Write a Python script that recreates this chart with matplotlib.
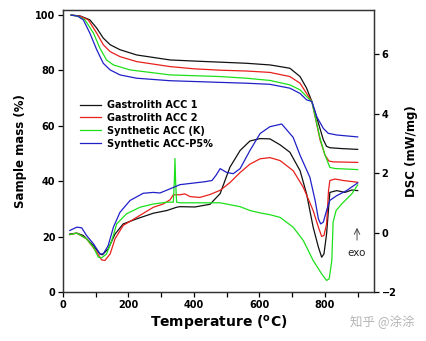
import numpy as np
import matplotlib
matplotlib.use("Agg")
import matplotlib.pyplot as plt

plt.rcParams['font.family'] = ['DejaVu Sans']
plt.rcParams['font.weight'] = 'bold'
plt.rcParams['axes.labelweight'] = 'bold'

# TGA curves (left axis, %)
t_black_tga = [25, 52, 82, 103, 123, 144, 174, 225, 327, 400, 480, 560, 632, 663, 693, 724, 744, 760, 780, 795, 805, 815, 850, 900]
m_black = [100, 99.7, 98.3, 95.3, 91.7, 89.3, 87.5, 85.6, 83.8, 83.4, 83, 82.6, 82, 81.4, 80.8, 77.8, 73.6, 68.8, 61, 55, 52.6, 52.1, 51.8, 51.5]

t_red_tga = [25, 52, 77, 103, 123, 144, 174, 225, 327, 400, 480, 560, 632, 693, 724, 744, 760, 785, 800, 812, 825, 900]
m_red = [100, 99.6, 98.3, 93.5, 89.3, 86.8, 85, 83.2, 81.4, 80.6, 80.1, 79.8, 79.3, 77.8, 75.4, 71.7, 68.8, 55, 49.5, 47.3, 47, 46.8]

t_green_tga = [25, 45, 67, 93, 113, 133, 154, 205, 327, 480, 560, 632, 693, 724, 744, 760, 785, 800, 815, 830, 900]
m_green = [100, 99.6, 98.3, 93.5, 88, 83.8, 82, 80.2, 78.4, 77.8, 77.2, 76.4, 74.8, 73, 70.6, 68.8, 55.6, 49.5, 45, 44.6, 44.2]

t_blue_tga = [25, 45, 62, 82, 103, 123, 144, 174, 225, 327, 480, 560, 632, 693, 724, 744, 760, 775, 795, 810, 836, 900]
m_blue = [100, 99.6, 98.3, 93.5, 87.5, 82.6, 80.2, 78.4, 77.2, 76.3, 75.7, 75.4, 75, 73.6, 71.7, 69.4, 68.8, 63.3, 59.1, 57.3, 56.7, 56]

# DSC curves (right axis, mW/mg)
t_black_dsc = [21, 42, 62, 93, 113, 120, 138, 159, 184, 225, 276, 317, 347, 357, 403, 449, 480, 510, 541, 571, 602, 632, 663, 693, 724, 744, 764, 780, 790, 797, 805, 811, 815, 836, 861, 882, 900]
d_black = [-0.05, -0.02, -0.1, -0.44, -0.72, -0.75, -0.55, -0.05, 0.29, 0.46, 0.65, 0.74, 0.85, 0.87, 0.86, 0.95, 1.31, 2.2, 2.76, 3.08, 3.16, 3.15, 2.95, 2.7, 2.08, 1.3, 0.18, -0.49, -0.83, -0.72, -0.05, 0.8, 1.35, 1.41, 1.35, 1.43, 1.41]

t_red_dsc = [21, 42, 72, 103, 118, 128, 144, 159, 184, 225, 276, 306, 327, 337, 357, 372, 388, 418, 449, 480, 510, 541, 571, 602, 632, 663, 703, 734, 764, 780, 790, 797, 805, 811, 815, 831, 856, 900]
d_red = [-0.07, -0.02, -0.21, -0.66, -0.92, -0.94, -0.72, -0.21, 0.24, 0.51, 0.85, 0.96, 1.1, 1.27, 1.27, 1.3, 1.21, 1.18, 1.28, 1.42, 1.68, 2.02, 2.3, 2.48, 2.52, 2.42, 2.08, 1.52, 0.74, 0.18, -0.13, -0.1, 0.29, 1.41, 1.75, 1.8, 1.75, 1.69]

t_green_dsc = [21, 42, 72, 93, 108, 118, 133, 149, 164, 194, 235, 276, 317, 337, 340, 342, 344, 347, 360, 418, 480, 541, 571, 602, 632, 663, 703, 734, 764, 790, 805, 813, 821, 825, 834, 851, 882, 900]
d_green = [-0.07, -0.02, -0.21, -0.49, -0.83, -0.85, -0.72, -0.27, 0.29, 0.63, 0.85, 0.96, 1.02, 1.02, 1.7, 2.49, 1.7, 1.02, 1.0, 1.0, 1.0, 0.87, 0.74, 0.66, 0.6, 0.51, 0.18, -0.27, -0.94, -1.39, -1.61, -1.56, -0.94, 0.35, 0.74, 0.96, 1.3, 1.6]

t_blue_dsc = [21, 42, 57, 72, 93, 113, 123, 138, 154, 174, 205, 245, 276, 296, 327, 357, 388, 434, 455, 467, 480, 500, 520, 541, 571, 602, 632, 668, 703, 724, 754, 770, 780, 787, 795, 805, 815, 836, 866, 900]
d_blue = [0.07, 0.18, 0.16, -0.1, -0.38, -0.72, -0.72, -0.44, 0.18, 0.68, 1.08, 1.32, 1.35, 1.33, 1.47, 1.61, 1.65, 1.71, 1.75, 1.92, 2.15, 2.02, 1.98, 2.15, 2.76, 3.33, 3.56, 3.65, 3.2, 2.6, 1.86, 1.08, 0.46, 0.29, 0.35, 0.74, 1.08, 1.24, 1.41, 1.67]

labels = ["Gastrolith ACC 1", "Gastrolith ACC 2", "Synthetic ACC (K)", "Synthetic ACC-P5%"]
colors = ["#111111", "#e8201c", "#1ee01a", "#2020c8"]

fig = plt.figure(figsize=(4.27, 3.41), dpi=100)
ax = fig.add_axes([0.1475, 0.1437, 0.7285, 0.8283])
ax2 = ax.twinx()

tga = [(t_black_tga, m_black), (t_red_tga, m_red), (t_green_tga, m_green), (t_blue_tga, m_blue)]
dsc = [(t_black_dsc, d_black), (t_red_dsc, d_red), (t_green_dsc, d_green), (t_blue_dsc, d_blue)]

for (t, m), lab, c in zip(tga, labels, colors):
    ax.plot(t, m, color=c, lw=0.9, label=lab)
for (t, d), c in zip(dsc, colors):
    ax2.plot(t, d, color=c, lw=0.9)

ax.set_xlim(0, 950)
ax.set_ylim(0, 102)
ax2.set_ylim(-2, 7.5)
ax.set_xticks(np.arange(0, 1000, 100))
ax.set_xticklabels([str(v) if v % 200 == 0 else "" for v in range(0, 1000, 100)])
ax.set_yticks([0, 20, 40, 60, 80, 100])
ax2.set_yticks([-2, 0, 2, 4, 6])

for a in (ax, ax2):
    a.tick_params(direction='out', length=3.5, width=0.9, labelsize=7, pad=2)
    for s in a.spines.values():
        s.set_linewidth(0.9)
        s.set_color('#333333')

ax.set_xlabel("Temperature ($^{\\mathbf{o}}$C)", fontsize=10, labelpad=3)
ax.set_ylabel("Sample mass (%)", fontsize=8.5, labelpad=6)
ax2.set_ylabel("DSC (mW/mg)", fontsize=8.5, labelpad=6)

ax.legend(loc='upper left', bbox_to_anchor=(0.055, 0.68), frameon=False,
          fontsize=7, handlelength=2.2, handletextpad=0.6, labelspacing=0.3,
          borderpad=0, borderaxespad=0)

ax2.annotate("", xy=(898, 0.25), xytext=(898, -0.35),
             arrowprops=dict(arrowstyle='->', lw=0.6, color='#333333'))
ax2.text(898, -0.68, "exo", ha='center', va='center', fontsize=7.5,
         fontweight='normal', color='#222222')

fig.text(0.97, 0.055, "知乎 @涂涂", ha='right', va='center', fontsize=9,
         color='#b5b5b5', fontweight='normal',
         family=['Noto Sans CJK SC', 'DejaVu Sans'])

fig.savefig("out.png", dpi=100)
